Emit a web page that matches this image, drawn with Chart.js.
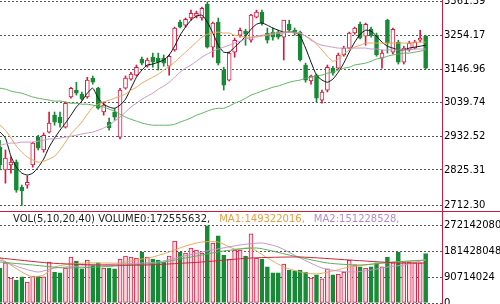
<!DOCTYPE html>
<html>
<head>
<meta charset="utf-8">
<script src="https://cdn.jsdelivr.net/npm/chart.js@4.4.1/dist/chart.umd.min.js"></script>
<style>
  html, body { margin: 0; padding: 0; background: #fff; }
  #wrap { position: relative; width: 500px; height: 304px; overflow: hidden; }
  canvas { display: block; position: absolute; left: 0; }
  #kline { top: 0; }
  #vol { top: 212px; }
  #sep { position: absolute; left: 0; top: 211px; width: 500px; height: 1px; background: #c41e3a; }
  #legend { position: absolute; left: 13px; top: 213px; font: 10px/12px "DejaVu Sans", sans-serif; color: #222; white-space: nowrap; }
  #legend .ma1 { color: #e0a048; margin-left: 9px; }
  #legend .ma2 { color: #b48cc4; margin-left: 9px; }
</style>
</head>
<body>
<div id="wrap">
  <canvas id="kline" width="500" height="211"></canvas>
  <div id="sep"></div>
  <canvas id="vol" width="500" height="92"></canvas>
  <div id="legend"><span>VOL(5,10,20,40) VOLUME0:172555632,</span><span class="ma1">MA1:149322016,</span><span class="ma2">MA2:151228528,</span></div>
</div>
<script>
// ---------- datos de velas ----------
const open = [2898,2825,2841,2850,2770,2777,2841,2930,2889,2946,
  3000,2994,2962,3058,3080,3067,3058,3118,3086,3010,
  2978,3010,2930,3086,3115,3128,3179,3156,3185,3182,
  3182,3156,3208,3297,3287,3310,3316,3310,3354,3217,
  3297,3144,3112,3201,3255,3268,3239,3313,3329,3262,
  3265,3265,3249,3290,3271,3265,3160,3109,3128,3048,
  3080,3150,3150,3192,3214,3262,3290,3252,3274,3255,
  3182,3303,3201,3233,3169,3208,3214,3239,3252];
const close = [2841,2863,2850,2761,2758,2786,2911,2895,2936,2975,
  2978,2975,3038,3086,3070,3051,3112,3105,3022,3032,
  2959,2994,3080,3118,3131,3153,3166,3176,3169,3169,
  3166,3188,3278,3281,3306,3325,3325,3341,3217,3294,
  3166,3096,3198,3239,3271,3258,3319,3329,3294,3239,
  3249,3249,3303,3271,3262,3176,3112,3125,3054,3074,
  3153,3134,3192,3214,3262,3278,3246,3290,3255,3192,
  3198,3230,3274,3169,3214,3230,3233,3246,3150];
const high = [2920,2889,2866,2857,2777,2806,2914,2936,2943,3010,
  3010,3010,3042,3089,3105,3074,3121,3125,3089,3042,
  2991,3022,3086,3125,3137,3160,3185,3182,3198,3198,
  3192,3192,3281,3303,3310,3335,3332,3345,3361.39,3297,
  3310,3153,3201,3246,3278,3274,3322,3335,3335,3278,
  3278,3271,3303,3303,3278,3268,3166,3128,3131,3080,
  3160,3156,3198,3220,3265,3281,3297,3294,3281,3262,
  3208,3306,3278,3239,3220,3236,3239,3271,3255];
const low = [2825,2783,2815,2754,2712.3,2767,2834,2889,2882,2943,
  2968,2962,2959,3054,3064,3048,3054,3099,3019,3000,
  2952,2984,2924,3083,3112,3125,3160,3153,3153,3144,
  3156,3128,3204,3278,3281,3303,3310,3303,3214,3185,
  3160,3080,3109,3185,3249,3223,3233,3310,3287,3230,
  3239,3243,3176,3265,3255,3172,3105,3099,3042,3038,
  3074,3128,3147,3188,3211,3258,3243,3223,3249,3188,
  3150,3198,3195,3163,3163,3204,3211,3233,3147];

// medias moviles del precio
const ma5 = [2946,2927,2869,2834,2815,2809,2815,2834,2860,2898,
  2927,2952,2975,3000,3026,3045,3070,3086,3054,3035,
  3026,3022,3032,3051,3086,3121,3144,3160,3163,3169,
  3176,3192,3220,3255,3281,3303,3316,3319,3297,3262,
  3223,3201,3201,3217,3233,3252,3274,3290,3294,3287,
  3278,3271,3265,3265,3265,3252,3214,3169,3128,3112,
  3105,3115,3137,3166,3201,3233,3258,3271,3268,3252,
  3233,3220,3214,3208,3208,3214,3217,3220,3223];
const ma10 = [2968,2952,2927,2901,2882,2866,2857,2850,2853,2860,
  2869,2889,2914,2940,2959,2978,3003,3026,3035,3042,
  3048,3054,3061,3067,3080,3089,3102,3112,3121,3131,
  3144,3156,3169,3185,3201,3217,3233,3249,3258,3262,
  3265,3262,3262,3255,3252,3249,3249,3249,3252,3255,
  3258,3262,3265,3265,3262,3262,3252,3243,3227,3208,
  3188,3172,3179,3195,3208,3217,3223,3230,3230,3230,
  3230,3230,3230,3230,3230,3230,3233,3233,3233];
const ma20 = [2904,2908,2911,2911,2914,2914,2914,2917,2920,2924,
  2924,2927,2930,2933,2936,2940,2943,2946,2952,2959,
  2968,2981,2994,3010,3026,3038,3051,3061,3070,3083,
  3093,3105,3121,3137,3150,3160,3172,3185,3195,3204,
  3211,3217,3223,3230,3236,3243,3246,3252,3255,3258,
  3262,3262,3262,3265,3265,3262,3252,3239,3230,3223,
  3220,3217,3214,3214,3214,3214,3214,3214,3211,3211,
  3208,3208,3208,3208,3208,3208,3211,3211,3211];
const ma40 = [3086,3083,3077,3073,3070,3064,3058,3054,3051,3048,
  3045,3045,3042,3038,3038,3035,3035,3032,3029,3026,
  3019,3013,3003,2994,2987,2981,2975,2971,2968,2968,
  2968,2968,2971,2978,2984,2991,3000,3006,3013,3019,
  3022,3022,3029,3038,3045,3054,3064,3070,3077,3083,
  3089,3093,3099,3105,3109,3112,3118,3121,3125,3128,
  3134,3137,3144,3150,3153,3160,3163,3166,3172,3179,
  3182,3188,3192,3195,3198,3198,3201,3204,3208];

// volumen en millones
const volumen = [122,140,87,80,91,73,94,94,91,143,
  108,105,122,160,146,119,150,133,140,122,
  122,119,153,164,160,157,178,160,153,150,
  143,164,216,178,174,192,185,174,269,209,
  234,167,153,185,185,164,241,157,153,126,
  105,105,136,115,112,115,108,87,98,84,
  119,98,101,108,150,133,126,122,126,140,
  126,160,140,178,143,143,140,140,172.56];

const volMa1Idx = [0,4,6,8,10,13,16,19,22,25,28,31,34,37,40,43,46,49,52,55,58,61,64,67,70,73,76,78];
const volMa1 = [157.0,108.2,90.7,97.7,125.6,136.1,139.6,139.6,139.6,150.0,160.5,177.9,198.9,212.8,212.8,188.4,191.9,157.0,125.6,108.2,101.2,111.6,125.6,132.6,139.6,143.0,146.5,149.3];
const volMa2Idx = [0,4,7,10,15,18,22,26,29,33,37,44,48,51,55,59,62,65,68,71,74,78];
const volMa2 = [150.0,122.1,108.2,122.1,129.1,132.6,136.1,139.6,143.0,160.5,177.9,202.4,209.3,195.4,157.0,122.1,111.6,108.2,115.1,125.6,132.6,151.2];
const volMa3Idx = [0,6,12,18,24,29,33,37,41,47,53,60,66,72,78];
const volMa3 = [143.0,132.6,122.1,125.6,132.6,139.6,153.5,167.5,181.4,191.9,167.5,139.6,132.6,143.0,150.0];
const volMa4Idx = [0,9,18,27,37,46,55,64,73,78];
const volMa4 = [157.0,139.6,132.6,132.6,143.0,157.0,160.5,150.0,139.6,139.6];

// ejes
const priceTicks = [3361.39, 3254.17, 3146.96, 3039.74, 2932.52, 2825.31, 2712.30];
const volTicks = [0, 90714024, 181428048, 272142080];

// ========== CONFIG ==========
const SLOTS = 82;
const RED = '#d7193f', GREEN = '#178a36';
const labels = Array.from({ length: SLOTS }, (_, i) => i);
const up = close.map((c, i) => c >= open[i]);

function sparse(idx, vals) {
  const out = new Array(open.length).fill(null);
  idx.forEach((k, j) => { out[k] = vals[j]; });
  return out;
}

function linea(data, color, order) {
  return { type: 'line', data, borderColor: color, borderWidth: 1, pointRadius: 0,
           tension: 0.2, spanGaps: true, order: order || 0 };
}

const fuente = { family: 'DejaVu Sans', size: 10 };

function ejeY(min, max, ticks, fmt) {
  return {
    position: 'right', min, max,
    afterFit: s => { s.width = 58; s.paddingTop = 0; s.paddingBottom = 0; },
    afterBuildTicks: s => { s.ticks = ticks.map(v => ({ value: v })); },
    ticks: { padding: 2, color: '#000', font: fuente, callback: fmt },
    grid: { color: '#555', drawTicks: false },
    border: { color: '#c41e3a', width: 1, dash: [2, 2] }
  };
}

const base = {
  responsive: false, animation: false, devicePixelRatio: 1,
  layout: { padding: 0, autoPadding: false },
  plugins: { legend: { display: false }, tooltip: { enabled: false } }
};

// ---------- velas ----------
new Chart(document.getElementById('kline'), {
  type: 'bar',
  data: {
    labels,
    datasets: [
      { data: open.map((o, i) => [Math.min(o, close[i]), Math.max(o, close[i])]),
        backgroundColor: up.map(u => u ? '#fff' : GREEN),
        borderColor: up.map(u => u ? RED : GREEN),
        borderWidth: 1, borderSkipped: false, barThickness: 4, grouped: false, order: 2 },
      { data: low.map((l, i) => [l, high[i]]),
        backgroundColor: up.map(u => u ? RED : GREEN),
        barThickness: 1, grouped: false, order: 3 },
      linea(ma40, '#5cb05c'),
      linea(ma20, '#c497c8'),
      linea(ma10, '#e9a75a'),
      linea(ma5, '#111')
    ]
  },
  options: {
    ...base,
    scales: {
      x: { display: false, offset: false, grid: { offset: false } },
      y: ejeY(2694.3, 3367.4, priceTicks, v => v.toFixed(2))
    }
  }
});

// ---------- volumen ----------
new Chart(document.getElementById('vol'), {
  type: 'bar',
  data: {
    labels,
    datasets: [
      { data: volumen,
        backgroundColor: up.map(u => u ? '#fbdde4' : GREEN),
        borderColor: up.map(u => u ? RED : GREEN),
        borderWidth: 1, borderSkipped: false, barThickness: 4, order: 2 },
      linea(sparse(volMa4Idx, volMa4), '#c8283c'),
      linea(sparse(volMa3Idx, volMa3), '#5cb05c'),
      linea(sparse(volMa2Idx, volMa2), '#c497c8'),
      linea(sparse(volMa1Idx, volMa1), '#e9a75a')
    ]
  },
  options: {
    ...base,
    layout: { padding: { bottom: 1 }, autoPadding: false },
    scales: {
      x: { display: false, offset: false, grid: { offset: false } },
      y: ejeY(0, 317.5, volTicks.map(v => v / 1e6), (v, i) => String(volTicks[i]))
    }
  }
});
</script>
</body>
</html>
